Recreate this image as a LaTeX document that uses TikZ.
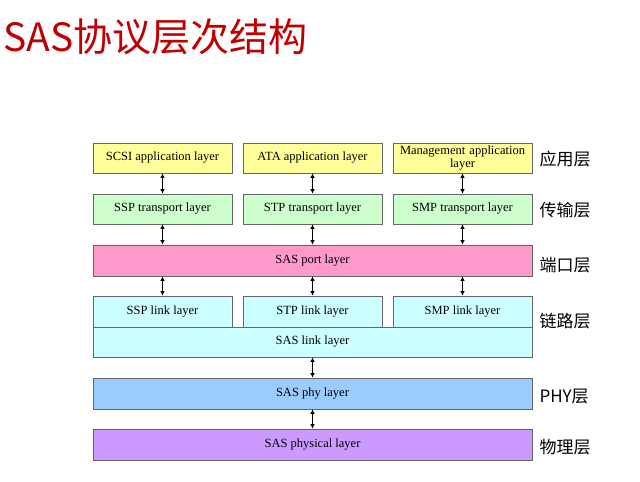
\documentclass[tikz,border=0pt]{standalone}
\usepackage{fontspec}
\setmainfont{Liberation Serif}
\newfontfamily\cjk{Noto Sans CJK SC}
\usetikzlibrary{arrows.meta}
\definecolor{cyel}{RGB}{255,255,153}
\definecolor{cgrn}{RGB}{204,255,204}
\definecolor{cpnk}{RGB}{255,153,204}
\definecolor{ccyn}{RGB}{204,255,255}
\definecolor{cblu}{RGB}{153,204,255}
\definecolor{cpur}{RGB}{204,153,255}
\definecolor{ctitle}{RGB}{192,0,0}
\begin{document}
\begin{tikzpicture}[x=1pt,y=-1pt,
  box/.style={draw=black!60,line width=0.6pt,inner sep=0pt,align=center,font=\fontsize{12.5}{13}\selectfont},
  lbl/.style={font=\cjk\fontsize{17}{19}\selectfont,anchor=west},
  arr/.style={{Latex[length=4.5pt,width=4.5pt]}-{Latex[length=4.5pt,width=4.5pt]},line width=1pt}]
\useasboundingbox[fill=white] (0,0) rectangle (640,482);
\node[anchor=west,text=ctitle,font=\cjk\fontsize{39}{42}\selectfont] (title) at (0,37) {SAS协议层次结构};
% row 1
\node[box,fill=cyel,minimum width=139,minimum height=30] (a1) at (162.5,158) {SCSI application layer};
\node[box,fill=cyel,minimum width=139,minimum height=30] (a2) at (312.5,158) {ATA application layer};
\node[box,fill=cyel,minimum width=139,minimum height=30,text width=136] (a3) at (462.5,158) {Management application\\layer};
% row 2
\node[box,fill=cgrn,minimum width=139,minimum height=30] (t1) at (162.5,209) {SSP transport layer};
\node[box,fill=cgrn,minimum width=139,minimum height=30] (t2) at (312.5,209) {STP transport layer};
\node[box,fill=cgrn,minimum width=139,minimum height=30] (t3) at (462.5,209) {SMP transport layer};
% port
\node[box,fill=cpnk,minimum width=439,minimum height=31] (p) at (312.5,260.5) {SAS port layer};
% link
\node[box,fill=ccyn,minimum width=439,minimum height=30] (sl) at (312.5,342) {SAS link layer};
\node[box,fill=ccyn,minimum width=139,minimum height=31] (l1) at (162.5,311.5) {SSP link layer};
\node[box,fill=ccyn,minimum width=139,minimum height=31] (l2) at (312.5,311.5) {STP link layer};
\node[box,fill=ccyn,minimum width=139,minimum height=31] (l3) at (462.5,311.5) {SMP link layer};
% phy
\node[box,fill=cblu,minimum width=439,minimum height=31] (phy) at (312.5,393.5) {SAS phy layer};
\node[box,fill=cpur,minimum width=439,minimum height=31] (phs) at (312.5,444.5) {SAS physical layer};
% arrows
\draw[arr] (a1) -- (t1); \draw[arr] (a2) -- (t2); \draw[arr] (a3) -- (t3);
\draw[arr] (t1) -- (t1|-p.north); \draw[arr] (t2) -- (t2|-p.north); \draw[arr] (t3) -- (t3|-p.north);
\draw[arr] (l1|-p.south) -- (l1); \draw[arr] (l2|-p.south) -- (l2); \draw[arr] (l3|-p.south) -- (l3);
\draw[arr] (sl) -- (phy);
\draw[arr] (phy) -- (phs);
% labels
\node[lbl] (r1) at (536,159) {应用层};
\node[lbl] (r2) at (536,210) {传输层};
\node[lbl] (r3) at (536,265) {端口层};
\node[lbl] (r4) at (536,321) {链路层};
\node[lbl] (r5) at (536,397) {PHY层};
\node[lbl] (r6) at (536,447) {物理层};
\end{tikzpicture}
\end{document}
